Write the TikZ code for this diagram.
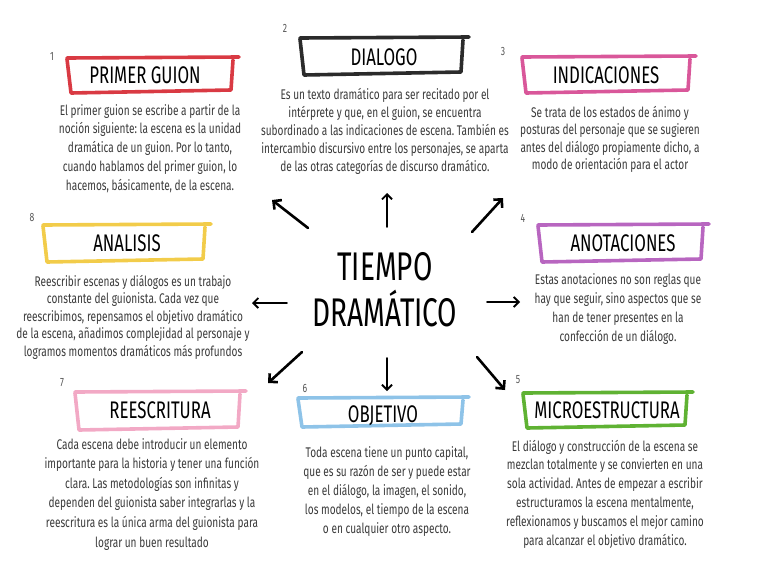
\documentclass[tikz,border=0pt]{standalone}
\usepackage{fontspec}
\setmainfont{Fira Sans}[FakeStretch=0.72]
\newfontfamily\headfont{Fira Sans}[FakeStretch=0.7]
\usetikzlibrary{arrows.meta}
\frenchspacing
\definecolor{cred}{HTML}{D93A43}
\definecolor{cdark}{HTML}{2B2B2B}
\definecolor{cmag}{HTML}{D9579A}
\definecolor{cyel}{HTML}{F2CC4A}
\definecolor{cpur}{HTML}{B866C0}
\definecolor{cpink}{HTML}{F2A9C5}
\definecolor{cblue}{HTML}{8EC3E8}
\definecolor{cgreen}{HTML}{5FB233}
\definecolor{txt}{HTML}{3A3A3A}
\definecolor{numc}{HTML}{555555}
\newcommand\hframe[5]{%
  \draw[frame,#5] (#1,#2) -- (#3+6,#2-1);
  \draw[frame,#5] (#3,#2+2) -- (#3-2,#4-3) -- (#1+4,#4) -- (#1,#2+1);
}
\begin{document}
\begin{tikzpicture}[x=1pt,y=-1pt,
  frame/.style={line width=3.6pt,line cap=round,line join=round},
  head/.style={font=\headfont\fontsize{24}{24}\selectfont,text=black,inner sep=0pt},
  body/.style={font=\fontsize{14}{#1}\selectfont,text=txt,align=center,inner sep=0pt,anchor=base},
  num/.style={font=\fontsize{12}{12}\selectfont,text=numc,inner sep=0pt},
  arr/.style={line width=2.6pt,line cap=round,-{Straight Barb[length=6pt,width=12pt]}},
  arrthin/.style={line width=1.8pt,line cap=round,-{Straight Barb[length=5pt,width=10pt]}}]
\useasboundingbox (0,0) rectangle (768,576);

% frames
\hframe{67}{58}{233}{93}{cred}
\hframe{300}{38}{463}{75}{cdark}
\hframe{522}{57}{690}{93}{cmag}
\hframe{43}{225}{205}{262}{cyel}
\hframe{538}{225}{703}{262}{cpur}
\hframe{75}{392}{240}{430}{cpink}
\hframe{298}{398}{463}{427}{cblue}
\hframe{523}{393}{687}{428}{cgreen}

% titles
\node[head] (t1) at (145,75) {PRIMER GUION};
\node[head] (t2) at (384,57) {DIALOGO};
\node[head] (t3) at (606,75) {INDICACIONES};
\node[head] (t8) at (127,243) {ANALISIS};
\node[head] (t4) at (623,243) {ANOTACIONES};
\node[head] (t7) at (160,410) {REESCRITURA};
\node[head] (t6) at (383,416) {OBJETIVO};
\node[head] (t5) at (607,410) {MICROESTRUCTURA};

% numbers
\node[num] (n1) at (52,56) {1};
\node[num] (n2) at (285,28) {2};
\node[num] (n3) at (503,51) {3};
\node[num] (n4) at (523,218) {4};
\node[num] (n5) at (518,380) {5};
\node[num] (n6) at (305,388) {6};
\node[num] (n7) at (62,383) {7};
\node[num] (n8) at (32,217) {8};

% bodies (anchored at the baseline of the last line)
\node[body=18.75] (b1) at (150,190) {El primer guion se escribe a partir de la\\ noción siguiente: la escena es la unidad\\ dramática de un guion. Por lo tanto,\\ cuando hablamos del primer guion, lo\\ hacemos, básicamente, de la escena.};
\node[body=18] (b2) at (385,171) {Es un texto dramático para ser recitado por el\\ intérprete y que, en el guion, se encuentra\\ subordinado a las indicaciones de escena. También es\\ intercambio discursivo entre los personajes, se aparta\\ de las otras categorías de discurso dramático.};
\node[body=17.5] (b3) at (610,169.5) {Se trata de los estados de ánimo y\\ posturas del personaje que se sugieren\\ antes del diálogo propiamente dicho, a\\ modo de orientación para el actor};
\node[body=17.5] (b8) at (133,356) {Reescribir escenas y diálogos es un trabajo\\ constante del guionista. Cada vez que\\ reescribimos, repensamos el objetivo dramático\\ de la escena, añadimos complejidad al personaje y\\ logramos momentos dramáticos más profundos};
\node[body=19] (b4) at (618,341) {Estas anotaciones no son reglas que\\ hay que seguir, sino aspectos que se\\ han de tener presentes en la\\ confección de un diálogo.};
\node[body=19.6] (b7) at (152,547) {Cada escena debe introducir un elemento\\ importante para la historia y tener una función\\ clara. Las metodologías son infinitas y\\ dependen del guionista saber integrarlas y la\\ reescritura es la única arma del guionista para\\ lograr un buen resultado};
\node[body=19] (b6) at (387,533) {Toda escena tiene un punto capital,\\ que es su razón de ser y puede estar\\ en el diálogo, la imagen, el sonido,\\ los modelos, el tiempo de la escena\\ o en cualquier otro aspecto.};
\node[body=18.8] (b5) at (605,545) {El diálogo y construcción de la escena se\\ mezclan totalmente y se convierten en una\\ sola actividad. Antes de empezar a escribir\\ estructuramos la escena mentalmente,\\ reflexionamos y buscamos el mejor camino\\ para alcanzar el objetivo dramático.};

% center
\node[font=\headfont\fontsize{40}{46}\selectfont,align=center,inner sep=0pt,text=black] (core) at (385,290) {TIEMPO\\ DRAMÁTICO};

% arrow endpoints
\coordinate (s1) at (308,228); \coordinate (e1) at (272,200);
\coordinate (s2) at (387,227); \coordinate (e2) at (387,193);
\coordinate (s3) at (472,232); \coordinate (e3) at (503,198);
\coordinate (s8) at (287,303); \coordinate (e8) at (252,303);
\coordinate (s4) at (487,302); \coordinate (e4) at (520,302);
\coordinate (s7) at (302,352); \coordinate (e7) at (268,383);
\coordinate (s6) at (387,358); \coordinate (e6) at (387,391);
\coordinate (s5) at (477,357); \coordinate (e5) at (505,390);

\draw[arr] (s1) -- (e1);
\draw[arrthin] (s2) -- (e2);
\draw[arr] (s3) -- (e3);
\draw[arrthin] (s8) -- (e8);
\draw[arrthin] (s4) -- (e4);
\draw[arr] (s7) -- (e7);
\draw[arrthin] (s6) -- (e6);
\draw[arr] (s5) -- (e5);
\end{tikzpicture}
\end{document}
